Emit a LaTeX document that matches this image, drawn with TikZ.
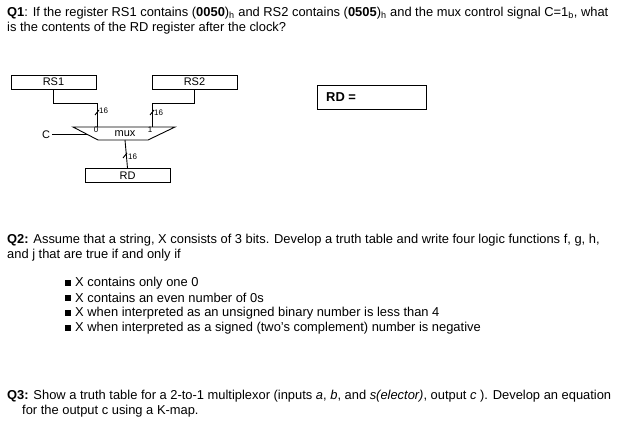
\documentclass[tikz,border=0pt]{standalone}
\usepackage{fontspec}
\setmainfont{Liberation Sans}
\begin{document}
\begin{tikzpicture}[x=1pt,y=-1pt,
  txt/.style={anchor=west,inner sep=0pt,font=\fontsize{12.9}{14}\selectfont},
  sm/.style={inner sep=0pt,font=\fontsize{8}{9}\selectfont},
  reg/.style={draw,line width=0.9pt,minimum height=14pt,inner sep=0pt,font=\fontsize{11}{12}\selectfont},
  wire/.style={line width=0.9pt}]
\useasboundingbox (0,0) rectangle (628,433);
\node[txt] (q1a) at (7,13) {\textbf{Q1}: If the register RS1 contains (\textbf{0050})\textsubscript{h} and RS2 contains (\textbf{0505})\textsubscript{h} and the mux control signal C=1\textsubscript{b}, what};
\node[txt] (q1b) at (7,28) {is the contents of the RD register after the clock?};
\node[reg,minimum width=85pt] (rs1) at (53.5,82) {RS1};
\node[reg,minimum width=85pt] (rs2) at (194.5,82) {RS2};
\node[reg,minimum width=85pt] (rd) at (127.5,175.5) {RD};
\node[draw,line width=0.9pt,minimum width=109pt,minimum height=24pt,inner sep=0pt] (rdeq) at (371.5,97) {};
\node[anchor=west,inner sep=0pt,font=\fontsize{12.9}{14}\selectfont\bfseries] (rdt) at (326,97) {RD =};
\draw[wire] (73,127) -- (175,127) -- (148,140) -- (98,140) -- cycle;
\node[inner sep=0pt,font=\fontsize{11}{12}\selectfont] (mux) at (125,134) {mux};
\node[sm] (i0) at (96,130) {0};
\node[sm] (i1) at (150,130) {1};
\coordinate (m0) at (97,127);
\coordinate (m1) at (152,127);
\coordinate (mo) at (125,140);
\coordinate (mc) at (88,134.5);
\draw[wire] (rs1.south) |- (97,103) -- (m0);
\draw[wire] (rs2.south) |- (152,103) -- (m1);
\draw[wire] (mo) -- (rd.north);
\node[inner sep=0pt,font=\fontsize{11}{12}\selectfont] (c) at (46,134.5) {C};
\draw[wire] (52,134.5) -- (mc);
\draw[wire] (95,115) -- (99,110);
\node[sm,anchor=west] (l1) at (99,111) {16};
\draw[wire] (150,115) -- (154,110);
\node[sm,anchor=west] (l2) at (154,113) {16};
\draw[wire] (123,158) -- (127,153);
\node[sm,anchor=west] (l3) at (128,157) {16};
\node[txt] (q2a) at (7,240) {\textbf{Q2:} Assume that a string, X consists of 3 bits. Develop a truth table and write four logic functions f, g, h,};
\node[txt] (q2b) at (7,255) {and j that are true if and only if};
\foreach \y/\t in {283/X contains only one 0, 298/X contains an even number of 0s, 313/X when interpreted as an unsigned binary number is less than 4, 328/X when interpreted as a signed (two’s complement) number is negative}{
  \fill (65,\y-3) rectangle (71,\y+3);
  \node[txt] at (75,\y) {\t};
}
\node[txt] (q3a) at (7,396) {\textbf{Q3:} Show a truth table for a 2-to-1 multiplexor (inputs \textit{a}, \textit{b}, and \textit{s(elector)}, output \textit{c} ). Develop an equation};
\node[txt] (q3b) at (22,411) {for the output c using a K-map.};
\end{tikzpicture}
\end{document}
